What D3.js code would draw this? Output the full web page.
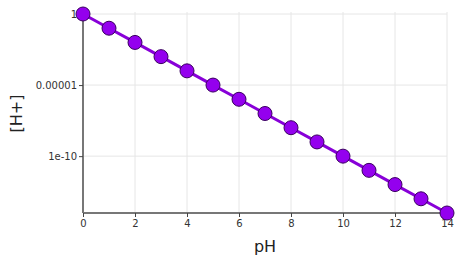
<!DOCTYPE html>
<html>
<head>
<meta charset="utf-8">
<script src="https://cdn.jsdelivr.net/npm/d3@7"></script>
<style>
  body { margin: 0; background: #fff; }
  svg text { font-family: "DejaVu Sans", sans-serif; }
</style>
</head>
<body>
<svg id="chart" width="474" height="270"></svg>
<script>
// pH values and the matching [H+] concentration
let phValues = [0, 1, 2, 3, 4, 5, 6, 7, 8, 9, 10, 11, 12, 13, 14];
let hValues = [1, 1e-1, 1e-2, 1e-3, 1e-4, 1e-5, 1e-6, 1e-7, 1e-8, 1e-9, 1e-10, 1e-11, 1e-12, 1e-13, 1e-14];
let xTicks = [0, 2, 4, 6, 8, 10, 12, 14];
let yTicks = [1, 1e-5, 1e-10];
let yTickLabels = ["1", "0.00001", "1e-10"];

let svg = d3.select("svg#chart");
let plotLeft = 83, plotRight = 447, plotTop = 14, plotBottom = 213;

let x = d3.scaleLinear().domain([0, 14]).range([plotLeft, plotRight]);
let y = d3.scaleLog().domain([1e-14, 1]).range([plotBottom, plotTop]);

// grid
let grid = svg.append("g").attr("class", "grid");
grid.selectAll("line.v").data(xTicks).enter().append("line")
    .attr("x1", d => x(d)).attr("x2", d => x(d))
    .attr("y1", plotTop - 2).attr("y2", plotBottom)
    .attr("stroke", "#e6e6e6").attr("stroke-width", 1);
grid.selectAll("line.h").data(yTicks).enter().append("line")
    .attr("x1", plotLeft).attr("x2", plotRight)
    .attr("y1", d => y(d)).attr("y2", d => y(d))
    .attr("stroke", "#e6e6e6").attr("stroke-width", 1);

// axes
let xAxis = svg.append("g")
    .attr("transform", "translate(0," + plotBottom + ")")
    .call(d3.axisBottom(x).tickValues(xTicks).tickSize(4).tickPadding(3));
let yAxis = svg.append("g")
    .attr("transform", "translate(" + plotLeft + ",0)")
    .call(d3.axisLeft(y).tickValues(yTicks).tickFormat((d, i) => yTickLabels[i]).tickSize(4).tickPadding(2));

[xAxis, yAxis].forEach(function(a) {
  a.select(".domain").attr("stroke", "#777").attr("stroke-width", 2);
  a.selectAll(".tick line").attr("stroke", "#444");
  a.selectAll(".tick text").attr("fill", "#333").style("font-size", "10px");
});
xAxis.select(".domain").attr("d", "M" + plotLeft + ",0H" + plotRight);
yAxis.select(".domain").attr("d", "M0," + plotTop + "V" + plotBottom);

// titles
svg.append("text")
    .attr("x", x(7)).attr("y", 252)
    .attr("text-anchor", "middle")
    .attr("fill", "#222")
    .style("font-size", "16px")
    .text("pH");
svg.append("text")
    .attr("transform", "translate(22," + ((plotTop + plotBottom) / 2) + ") rotate(-90)")
    .attr("text-anchor", "middle")
    .attr("fill", "#222")
    .style("font-size", "16px")
    .text("[H+]");

// line + points
let pts = phValues.map((p, i) => ({ ph: p, h: hValues[i] }));
svg.append("path")
    .datum(pts)
    .attr("fill", "none")
    .attr("stroke", "#8800d8")
    .attr("stroke-width", 3)
    .attr("d", d3.line().x(d => x(d.ph)).y(d => y(d.h)));

svg.append("g").selectAll("circle").data(pts).enter().append("circle")
    .attr("cx", d => x(d.ph))
    .attr("cy", d => y(d.h))
    .attr("r", 7)
    .attr("fill", "#9400ee")
    .attr("stroke", "#3a0060")
    .attr("stroke-width", 1);
</script>
</body>
</html>
